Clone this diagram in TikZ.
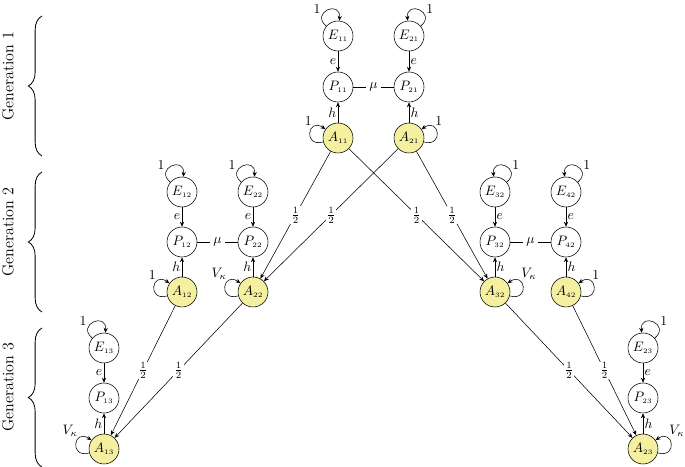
\documentclass[tikz,border=0pt]{standalone}
\usetikzlibrary{arrows.meta,decorations.pathreplacing}
\definecolor{ayel}{RGB}{244,240,160}
\begin{document}
\begin{tikzpicture}[x=0.73pt,y=-0.73pt,
  st/.style={circle,draw,minimum size=21.9pt,inner sep=0pt},
  ast/.style={st,fill=ayel},
  arr/.style={-{Stealth[length=3.6pt,width=3pt]}},
  half/.style={midway,fill=white,inner sep=0.6pt},
  lab/.style={inner sep=1pt},
  mu/.style={midway,fill=white,inner sep=2.5pt},
  lpE/.style={out=140,in=85,min distance=5.5mm,looseness=1},
  lpEr/.style={out=40,in=95,min distance=5.5mm,looseness=1},
  lpL/.style={out=195,in=145,min distance=5.5mm,looseness=1},
  lpR/.style={out=-15,in=35,min distance=5.5mm,looseness=1},
  gen/.style={rotate=90,font=\fontsize{11.7}{14}\selectfont},
  brc/.style={decorate,decoration={brace,amplitude=10pt},line width=0.6pt}
]
\useasboundingbox (0,0) rectangle (685,467);

% generation labels and braces
\node[gen] (g1) at (8,76) {Generation 1};
\node[gen] (g2) at (8,232) {Generation 2};
\node[gen] (g3) at (8,387) {Generation 3};
\draw[brc] (42,156) -- (42,16);
\draw[brc] (42,312) -- (42,172);
\draw[brc] (42,467) -- (42,328);

% generation 1
\node[st] (E11) at (338,36) {$E_{\scriptscriptstyle 11}$};
\node[st] (P11) at (338,87) {$P_{\scriptscriptstyle 11}$};
\node[ast] (A11) at (338,138) {$A_{\scriptscriptstyle 11}$};
\node[st] (E21) at (409,36) {$E_{\scriptscriptstyle 21}$};
\node[st] (P21) at (409,87) {$P_{\scriptscriptstyle 21}$};
\node[ast] (A21) at (409,138) {$A_{\scriptscriptstyle 21}$};

% generation 2
\node[st] (E12) at (182,192) {$E_{\scriptscriptstyle 12}$};
\node[st] (P12) at (182,242) {$P_{\scriptscriptstyle 12}$};
\node[ast] (A12) at (182,292) {$A_{\scriptscriptstyle 12}$};
\node[st] (E22) at (253,192) {$E_{\scriptscriptstyle 22}$};
\node[st] (P22) at (253,242) {$P_{\scriptscriptstyle 22}$};
\node[ast] (A22) at (253,292) {$A_{\scriptscriptstyle 22}$};
\node[st] (E32) at (495,192) {$E_{\scriptscriptstyle 32}$};
\node[st] (P32) at (495,242) {$P_{\scriptscriptstyle 32}$};
\node[ast] (A32) at (495,292) {$A_{\scriptscriptstyle 32}$};
\node[st] (E42) at (566,192) {$E_{\scriptscriptstyle 42}$};
\node[st] (P42) at (566,242) {$P_{\scriptscriptstyle 42}$};
\node[ast] (A42) at (566,292) {$A_{\scriptscriptstyle 42}$};

% generation 3
\node[st] (E13) at (104,348) {$E_{\scriptscriptstyle 13}$};
\node[st] (P13) at (104,398) {$P_{\scriptscriptstyle 13}$};
\node[ast] (A13) at (104,449) {$A_{\scriptscriptstyle 13}$};
\node[st] (E23) at (643,348) {$E_{\scriptscriptstyle 23}$};
\node[st] (P23) at (643,398) {$P_{\scriptscriptstyle 23}$};
\node[ast] (A23) at (643,449) {$A_{\scriptscriptstyle 23}$};

% E -> P and A -> P
\draw[arr] (E11) -- node[left,lab] {$e$} (P11);
\draw[arr] (A11) -- node[left,lab] {$h$} (P11);
\draw[arr] (E21) -- node[right,lab] {$e$} (P21);
\draw[arr] (A21) -- node[right,lab] {$h$} (P21);
\draw[arr] (E12) -- node[left,lab] {$e$} (P12);
\draw[arr] (A12) -- node[left,lab] {$h$} (P12);
\draw[arr] (E22) -- node[left,lab] {$e$} (P22);
\draw[arr] (A22) -- node[left,lab] {$h$} (P22);
\draw[arr] (E32) -- node[right,lab] {$e$} (P32);
\draw[arr] (A32) -- node[right,lab] {$h$} (P32);
\draw[arr] (E42) -- node[right,lab] {$e$} (P42);
\draw[arr] (A42) -- node[right,lab] {$h$} (P42);
\draw[arr] (E13) -- node[left,lab] {$e$} (P13);
\draw[arr] (A13) -- node[left,lab] {$h$} (P13);
\draw[arr] (E23) -- node[right,lab] {$e$} (P23);
\draw[arr] (A23) -- node[right,lab] {$h$} (P23);

% mu links
\draw (P11) -- node[mu] {$\mu$} (P21);
\draw (P12) -- node[mu] {$\mu$} (P22);
\draw (P32) -- node[mu] {$\mu$} (P42);

% E loops
\draw[arr] (E11) to[lpE] node[pos=0.3,above left,lab] {$1$} (E11);
\draw[arr] (E21) to[lpEr] node[pos=0.3,above right,lab] {$1$} (E21);
\draw[arr] (E12) to[lpE] node[pos=0.3,above left,lab] {$1$} (E12);
\draw[arr] (E22) to[lpE] node[pos=0.3,above left,lab] {$1$} (E22);
\draw[arr] (E32) to[lpEr] node[pos=0.3,above right,lab] {$1$} (E32);
\draw[arr] (E42) to[lpEr] node[pos=0.3,above right,lab] {$1$} (E42);
\draw[arr] (E13) to[lpE] node[pos=0.3,above left,lab] {$1$} (E13);
\draw[arr] (E23) to[lpEr] node[pos=0.3,above right,lab] {$1$} (E23);

% A loops
\draw[arr] (A11) to[lpL] node[pos=0.7,above left,lab] {$1$} (A11);
\draw[arr] (A21) to[lpR] node[pos=0.7,above right,lab] {$1$} (A21);
\draw[arr] (A12) to[lpL] node[pos=0.7,above left,lab] {$1$} (A12);
\draw[arr] (A22) to[lpL] node[pos=0.7,above left,lab] {$V_\kappa$} (A22);
\draw[arr] (A32) to[lpR] node[pos=0.7,above right,lab] {$V_\kappa$} (A32);
\draw[arr] (A42) to[lpR] node[pos=0.7,above right,lab] {$1$} (A42);
\draw[arr] (A13) to[lpL] node[pos=0.7,above left,lab] {$V_\kappa$} (A13);
\draw[arr] (A23) to[lpR] node[pos=0.7,above right,lab] {$V_\kappa$} (A23);

% inheritance
\draw[arr] (A11) -- node[half] {$\frac{1}{2}$} (A22);
\draw[arr] (A21) -- node[half] {$\frac{1}{2}$} (A22);
\draw[arr] (A11) -- node[half] {$\frac{1}{2}$} (A32);
\draw[arr] (A21) -- node[half] {$\frac{1}{2}$} (A32);
\draw[arr] (A12) -- node[half] {$\frac{1}{2}$} (A13);
\draw[arr] (A22) -- node[half] {$\frac{1}{2}$} (A13);
\draw[arr] (A32) -- node[half] {$\frac{1}{2}$} (A23);
\draw[arr] (A42) -- node[half] {$\frac{1}{2}$} (A23);
\end{tikzpicture}
\end{document}
